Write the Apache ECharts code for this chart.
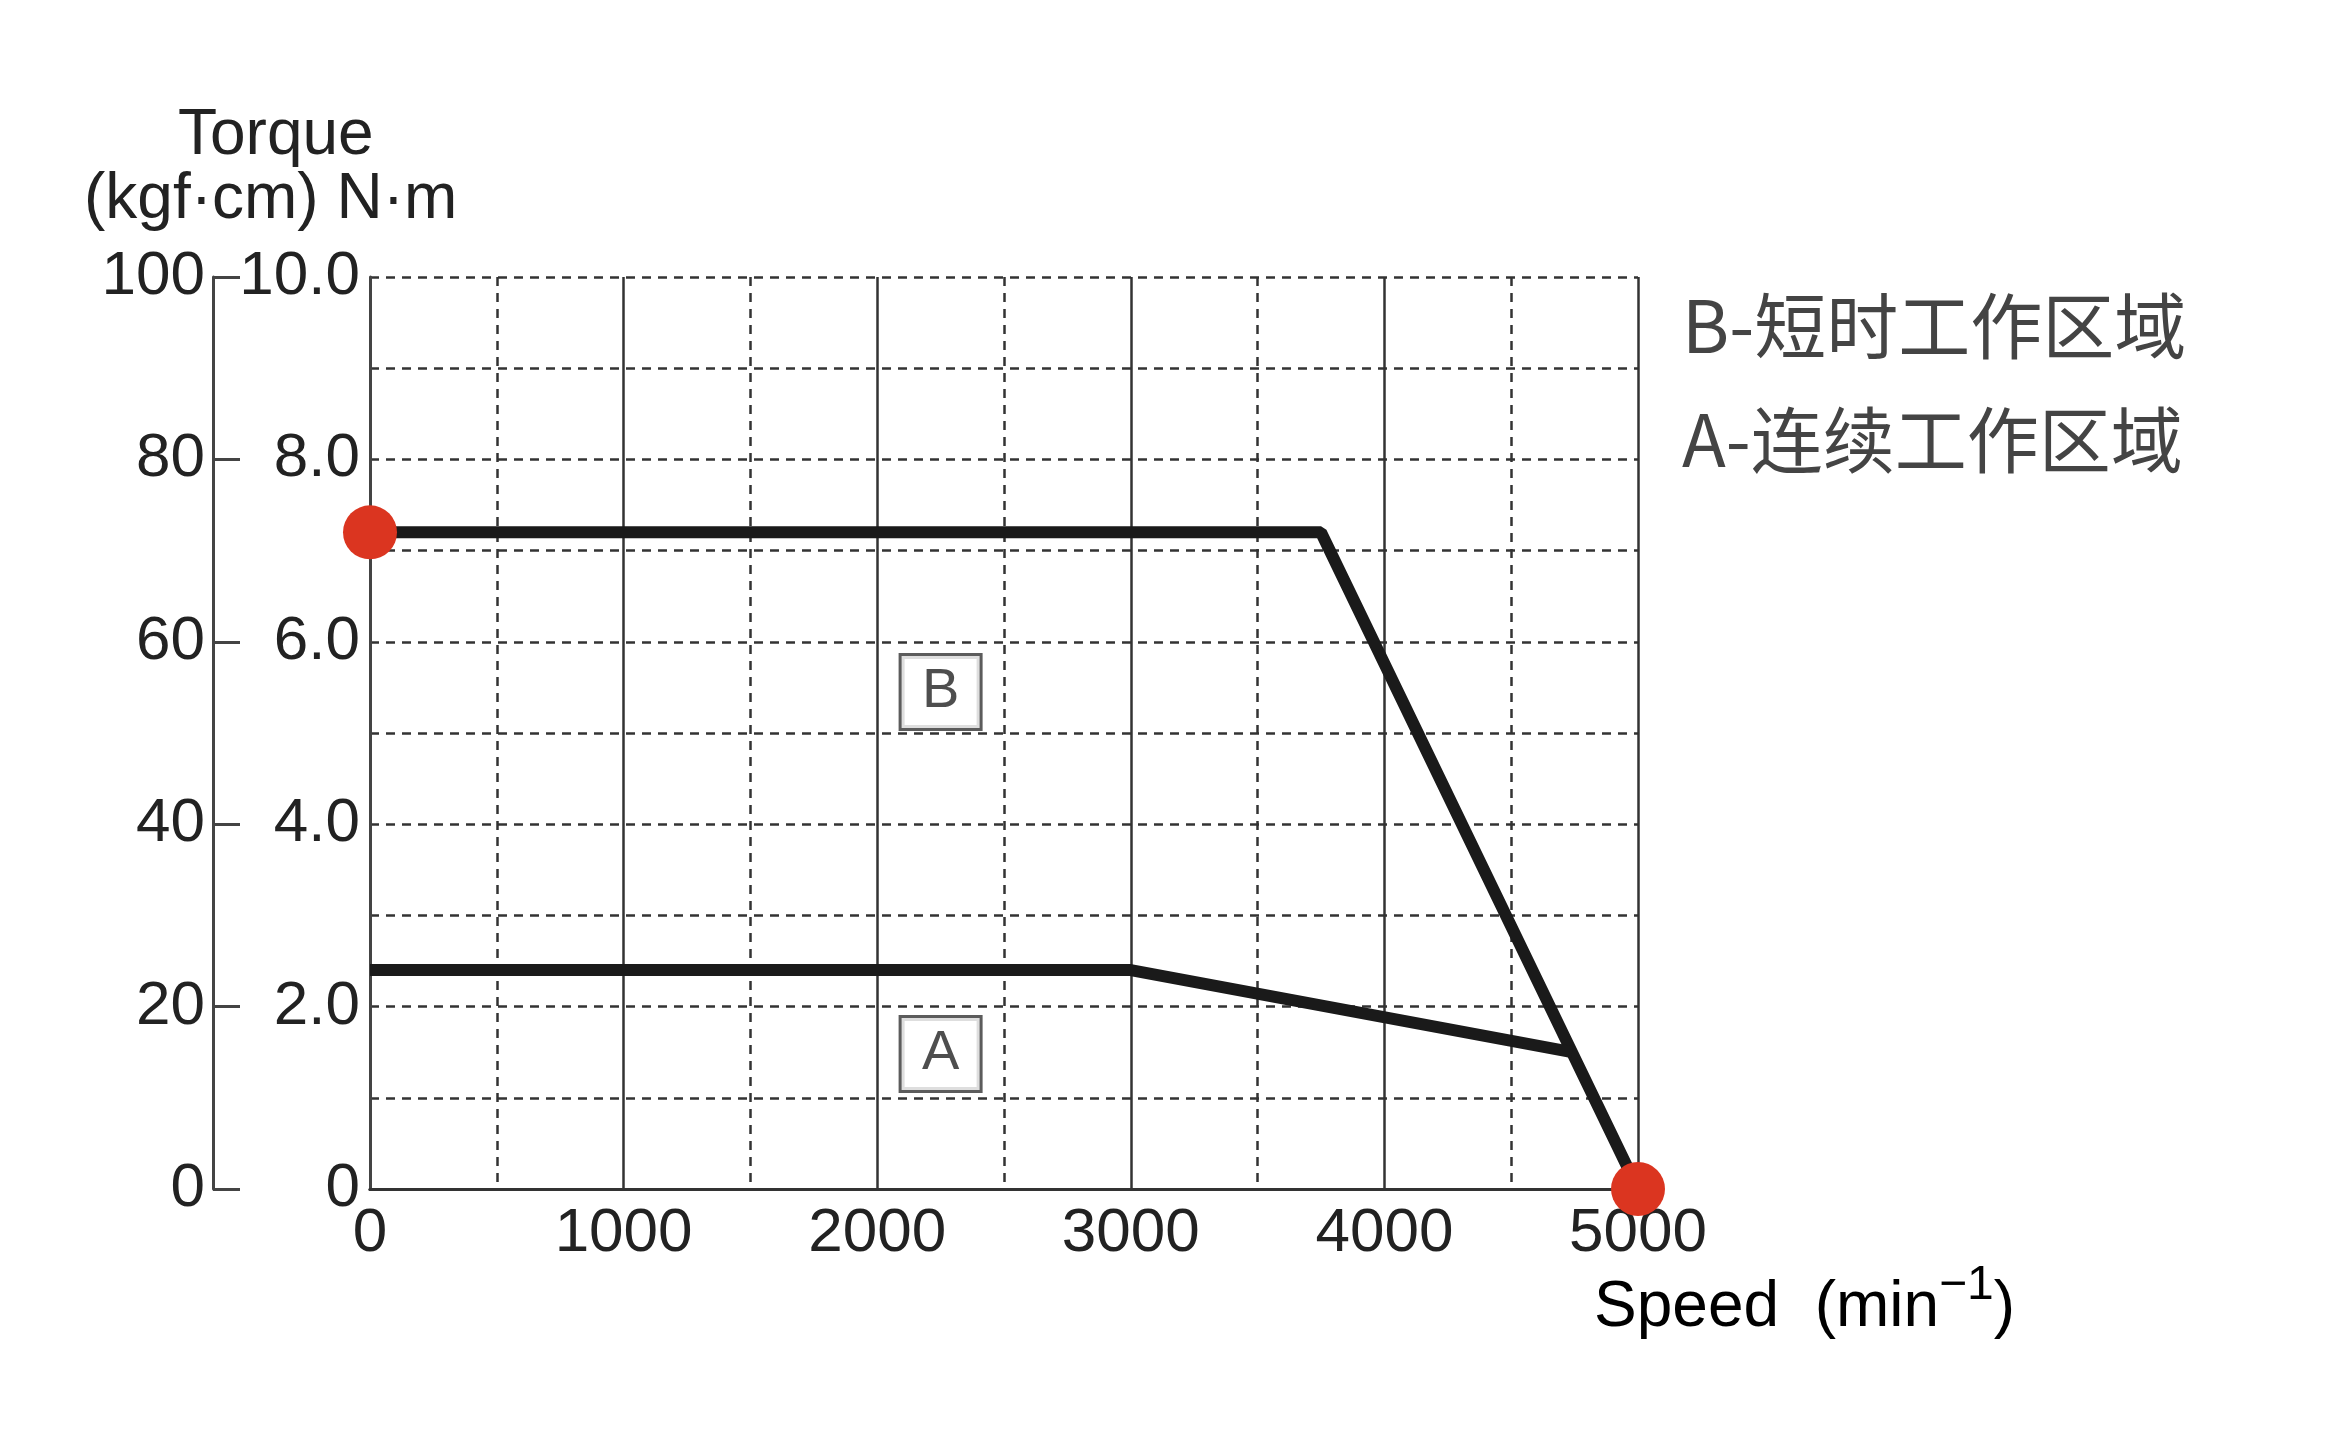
<!DOCTYPE html>
<html><head><meta charset="utf-8">
<script src="https://cdn.jsdelivr.net/npm/echarts@6/dist/echarts.min.js"></script>
<style>html,body{margin:0;padding:0;background:#fff}#c{width:2338px;height:1448px}</style>
</head><body><div id="c"></div>
<script>
const curveB = [[0,7.2],[3750,7.2],[5000,0]];
const curveA = [[0,2.4],[3000,2.4],[4740,1.5]];
const endPoints = [[0,7.2],[5000,0]];
const regionLabels = [[2250,5.45,'B'],[2250,1.48,'A']];
const legendLines = ['B-短时工作区域','A-连续工作区域'];
const F = "'Liberation Sans Narrow','Liberation Sans',Arial,sans-serif";
const chart = echarts.init(document.getElementById('c'));
chart.setOption({
  backgroundColor:'#fff',
  animation:false,
  grid:{left:370,right:700,top:277,bottom:259},
  xAxis:[{type:'value',min:0,max:5000,interval:1000,
    axisLine:{lineStyle:{color:'#333',width:3}},axisTick:{show:false},
    axisLabel:{fontFamily:F,fontSize:62,color:'#222',margin:14,formatter:v=>String(v)},
    splitLine:{show:true,lineStyle:{color:'#333',width:2.5}},
    minorTick:{show:false,splitNumber:2},
    minorSplitLine:{show:true,lineStyle:{color:'#333',width:2.5,type:[9,7]}}},
   {type:'value',position:'top',min:0,max:5000,axisLine:{show:true,lineStyle:{color:'#333',width:3}},
    axisTick:{show:false},axisLabel:{show:false},splitLine:{show:false}}],
  yAxis:[{type:'value',min:0,max:10,interval:1,
    axisLine:{show:true,onZero:false,lineStyle:{color:'#444',width:3}},axisTick:{show:false},
    axisLabel:{fontFamily:F,fontSize:62,color:'#222',margin:10,
      formatter:v=>v===0?'0':(v%2===0?v.toFixed(1):'')},
    splitLine:{show:true,lineStyle:{color:'#333',width:2.5,type:[9,7]}}},
   {type:'value',position:'left',offset:157,min:0,max:100,interval:20,
    axisLine:{show:true,onZero:false,lineStyle:{color:'#444',width:3}},
    axisTick:{show:true,inside:true,length:27,lineStyle:{color:'#444',width:3}},
    axisLabel:{fontFamily:F,fontSize:62,color:'#222',margin:8},splitLine:{show:false}}],
  series:[
    {type:'line',data:curveB,symbol:'none',lineStyle:{color:'#1a1a1a',width:12},z:3},
    {type:'line',data:curveA,symbol:'none',lineStyle:{color:'#1a1a1a',width:12},z:3},
    {type:'scatter',data:endPoints,symbolSize:54,itemStyle:{color:'#db3520',opacity:1},z:5},
    {type:'scatter',data:regionLabels.map(d=>({value:[d[0],d[1]],name:d[2]})),symbolSize:0,
      label:{show:true,position:'inside',formatter:p=>p.name,fontFamily:F,fontSize:56,color:'#222',
        backgroundColor:'#fff',borderColor:'#333',borderWidth:3,width:58,height:58,lineHeight:62,align:'center',
        padding:[8,10,6,10]},z:4}
  ],
  graphic:[
    {type:'text',left:178,top:104,style:{text:'Torque',font:'64px '+F,fill:'#222'}},
    {type:'text',left:84,top:168,style:{text:'(kgf·cm) N·m',font:'64px '+F,fill:'#222'}},
    {type:'text',left:1594,top:1262,style:{text:'{a|Speed  (min}{s|−1}{a|)}',
      rich:{a:{fontFamily:F,fontSize:64,color:'#222',verticalAlign:'bottom'},
            s:{fontFamily:F,fontSize:48,color:'#222',verticalAlign:'top',padding:[0,0,30,0]}}}},
    {type:'text',left:1682,top:290,style:{text:legendLines[0],font:'72px "Noto Sans CJK SC"',fill:'#444'}},
    {type:'text',left:1682,top:404,style:{text:legendLines[1],font:'72px "Noto Sans CJK SC"',fill:'#444'}}
  ]
});
</script></body></html>
